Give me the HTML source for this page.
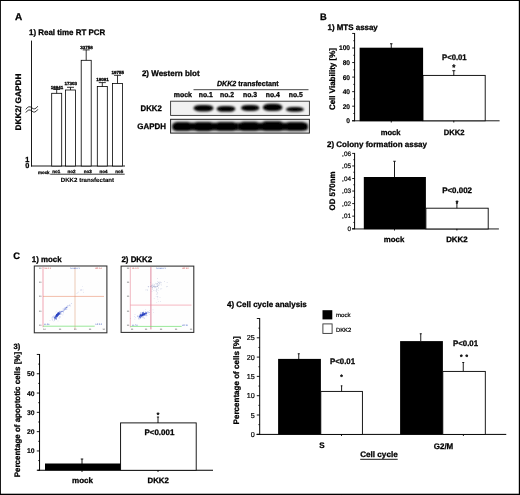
<!DOCTYPE html>
<html><head><meta charset="utf-8"><title>Figure</title>
<style>
html,body{margin:0;padding:0;background:#fff;}
svg{display:block;font-family:"Liberation Sans",Arial,sans-serif;text-rendering:geometricPrecision;}
</style></head><body>
<svg width="520" height="495" viewBox="0 0 520 495">
<rect x="0" y="0" width="520" height="495" fill="#fff"/>
<filter id="soft" x="0" y="0" width="520" height="495" filterUnits="userSpaceOnUse"><feGaussianBlur stdDeviation="0.3"/></filter>
<g filter="url(#soft)">
<text x="15" y="19.6" font-size="10" font-weight="bold" text-anchor="start" fill="#000"  stroke="#000" stroke-width="0.28">A</text>
<text x="29.1" y="34.8" font-size="8" font-weight="bold" text-anchor="start" fill="#000" textLength="76" lengthAdjust="spacingAndGlyphs"  stroke="#000" stroke-width="0.28">1) Real time RT PCR</text>
<line x1="31.5" y1="40.6" x2="31.5" y2="166.5" stroke="#000" stroke-width="0.9" />
<line x1="31" y1="166" x2="125" y2="166" stroke="#000" stroke-width="0.9" />
<path d="M25.8 109.4 q3 -4.4 6 -1.6 t6 -1.6 M25.8 112.6 q3 -4.4 6 -1.6 t6 -1.6" fill="none" stroke="#000" stroke-width="0.8"/>
<text x="29.2" y="161.9" font-size="7.3" font-weight="bold" text-anchor="end" fill="#000"  stroke="#000" stroke-width="0.28">1</text>
<text x="29.4" y="168.4" font-size="7.3" font-weight="bold" text-anchor="end" fill="#000"  stroke="#000" stroke-width="0.28">0</text>
<text transform="translate(21.1,102) rotate(-90)" font-size="8.1" font-weight="bold" text-anchor="middle" textLength="57" lengthAdjust="spacingAndGlyphs" stroke="#000" stroke-width="0.28">DKK2/ GAPDH</text>
<rect x="51.7" y="93.3" width="10" height="72.7" fill="#fff" stroke="#000" stroke-width="0.8" />
<line x1="56.7" y1="89.5" x2="56.7" y2="93.3" stroke="#000" stroke-width="0.8" />
<line x1="53.2" y1="89.5" x2="60.2" y2="89.5" stroke="#000" stroke-width="0.8" />
<text x="56.900000000000006" y="88.5" font-size="4.4" font-weight="bold" text-anchor="middle" fill="#000" textLength="12.5" lengthAdjust="spacingAndGlyphs" stroke="#000" stroke-width="0.3">16841</text>
<rect x="65.5" y="90" width="10" height="76" fill="#fff" stroke="#000" stroke-width="0.8" />
<line x1="70.5" y1="87.3" x2="70.5" y2="90" stroke="#000" stroke-width="0.8" />
<line x1="67.0" y1="87.3" x2="74.0" y2="87.3" stroke="#000" stroke-width="0.8" />
<text x="70.7" y="85.39999999999999" font-size="4.4" font-weight="bold" text-anchor="middle" fill="#000" textLength="12.5" lengthAdjust="spacingAndGlyphs" stroke="#000" stroke-width="0.3">17303</text>
<rect x="81.2" y="60.3" width="10" height="105.7" fill="#fff" stroke="#000" stroke-width="0.8" />
<line x1="86.2" y1="49.9" x2="86.2" y2="60.3" stroke="#000" stroke-width="0.8" />
<line x1="82.7" y1="49.9" x2="89.7" y2="49.9" stroke="#000" stroke-width="0.8" />
<text x="86.4" y="48.6" font-size="4.4" font-weight="bold" text-anchor="middle" fill="#000" textLength="12.5" lengthAdjust="spacingAndGlyphs" stroke="#000" stroke-width="0.3">33758</text>
<rect x="97.3" y="86.4" width="10" height="79.6" fill="#fff" stroke="#000" stroke-width="0.8" />
<line x1="102.3" y1="82.6" x2="102.3" y2="86.4" stroke="#000" stroke-width="0.8" />
<line x1="98.8" y1="82.6" x2="105.8" y2="82.6" stroke="#000" stroke-width="0.8" />
<text x="102.5" y="81.19999999999999" font-size="4.4" font-weight="bold" text-anchor="middle" fill="#000" textLength="12.5" lengthAdjust="spacingAndGlyphs" stroke="#000" stroke-width="0.3">18081</text>
<rect x="112.5" y="83.4" width="10" height="82.6" fill="#fff" stroke="#000" stroke-width="0.8" />
<line x1="117.5" y1="75.3" x2="117.5" y2="83.4" stroke="#000" stroke-width="0.8" />
<line x1="114.0" y1="75.3" x2="121.0" y2="75.3" stroke="#000" stroke-width="0.8" />
<text x="117.7" y="73.69999999999999" font-size="4.4" font-weight="bold" text-anchor="middle" fill="#000" textLength="12.5" lengthAdjust="spacingAndGlyphs" stroke="#000" stroke-width="0.3">19755</text>
<text x="38" y="173.6" font-size="4.5" font-weight="bold" text-anchor="start" fill="#000" textLength="11.6" lengthAdjust="spacingAndGlyphs" stroke="#000" stroke-width="0.25">mock</text>
<text x="56.2" y="173.4" font-size="4.5" font-weight="bold" text-anchor="middle" fill="#000" textLength="8" lengthAdjust="spacingAndGlyphs" stroke="#000" stroke-width="0.25">no1</text>
<text x="71.5" y="173.4" font-size="4.5" font-weight="bold" text-anchor="middle" fill="#000" textLength="8" lengthAdjust="spacingAndGlyphs" stroke="#000" stroke-width="0.25">no2</text>
<text x="87.7" y="173.4" font-size="4.5" font-weight="bold" text-anchor="middle" fill="#000" textLength="8" lengthAdjust="spacingAndGlyphs" stroke="#000" stroke-width="0.25">no3</text>
<text x="103.5" y="173.4" font-size="4.5" font-weight="bold" text-anchor="middle" fill="#000" textLength="8" lengthAdjust="spacingAndGlyphs" stroke="#000" stroke-width="0.25">no4</text>
<text x="119.2" y="173.4" font-size="4.5" font-weight="bold" text-anchor="middle" fill="#000" textLength="8" lengthAdjust="spacingAndGlyphs" stroke="#000" stroke-width="0.25">no5</text>
<line x1="50.2" y1="174.2" x2="124.7" y2="174.2" stroke="#000" stroke-width="0.8" />
<text x="60.8" y="182.4" font-size="6.1" font-weight="bold" text-anchor="start" fill="#000" textLength="53.3" lengthAdjust="spacingAndGlyphs" stroke="#000" stroke-width="0.12">DKK2 transfectant</text>
<text x="141.9" y="76.0" font-size="8" font-weight="bold" text-anchor="start" fill="#000" textLength="57.7" lengthAdjust="spacingAndGlyphs"  stroke="#000" stroke-width="0.28">2) Western blot</text>
<text x="217" y="86.3" font-size="7.3" font-weight="bold" text-anchor="start" fill="#000" textLength="61.7" lengthAdjust="spacingAndGlyphs"  stroke="#000" stroke-width="0.28"><tspan font-style="italic">DKK2</tspan> transfectant</text>
<line x1="193.5" y1="89.7" x2="308.5" y2="89.7" stroke="#333" stroke-width="0.9" />
<text x="173.8" y="97.4" font-size="7.2" font-weight="bold" text-anchor="start" fill="#000" textLength="18.2" lengthAdjust="spacingAndGlyphs"  stroke="#000" stroke-width="0.28">mock</text>
<text x="198.8" y="97.4" font-size="7.2" font-weight="bold" text-anchor="start" fill="#000" textLength="14" lengthAdjust="spacingAndGlyphs"  stroke="#000" stroke-width="0.28">no.1</text>
<text x="220" y="97.4" font-size="7.2" font-weight="bold" text-anchor="start" fill="#000" textLength="14" lengthAdjust="spacingAndGlyphs"  stroke="#000" stroke-width="0.28">no.2</text>
<text x="243" y="97.4" font-size="7.2" font-weight="bold" text-anchor="start" fill="#000" textLength="14" lengthAdjust="spacingAndGlyphs"  stroke="#000" stroke-width="0.28">no.3</text>
<text x="265.8" y="97.4" font-size="7.2" font-weight="bold" text-anchor="start" fill="#000" textLength="14" lengthAdjust="spacingAndGlyphs"  stroke="#000" stroke-width="0.28">no.4</text>
<text x="288.8" y="97.4" font-size="7.2" font-weight="bold" text-anchor="start" fill="#000" textLength="14" lengthAdjust="spacingAndGlyphs"  stroke="#000" stroke-width="0.28">no.5</text>
<text x="140.6" y="111.2" font-size="8" font-weight="bold" text-anchor="start" fill="#000" textLength="21.1" lengthAdjust="spacingAndGlyphs"  stroke="#000" stroke-width="0.28">DKK2</text>
<text x="137.3" y="129.1" font-size="8" font-weight="bold" text-anchor="start" fill="#000" textLength="28.7" lengthAdjust="spacingAndGlyphs"  stroke="#000" stroke-width="0.28">GAPDH</text>
<defs><filter id="bl" x="-20%" y="-50%" width="140%" height="200%"><feGaussianBlur stdDeviation="0.8"/></filter></defs>
<rect x="170.6" y="101.2" width="138.8" height="14.2" fill="#f1f1f1" stroke="#333" stroke-width="0.9" />
<rect x="170.6" y="119.3" width="138.8" height="13.8" fill="#e6e6e6" stroke="#222" stroke-width="1" />
<g filter="url(#bl)">
<rect x="193.6" y="104.9" width="19.80000000000001" height="6.6" rx="7.128000000000004" ry="3.3" fill="#050505"/>
<rect x="216.6" y="106.0" width="18.80000000000001" height="5.8" rx="6.768000000000004" ry="2.9" fill="#050505"/>
<rect x="241" y="104.9" width="18.399999999999977" height="6.0" rx="6.623999999999992" ry="3.0" fill="#050505"/>
<rect x="262.8" y="103.80000000000001" width="19.599999999999966" height="7.2" rx="7.055999999999988" ry="3.6" fill="#050505"/>
<rect x="286" y="107.10000000000001" width="17.80000000000001" height="4.6" rx="6.408000000000004" ry="2.3" fill="#050505"/>
<rect x="172.2" y="122.7" width="135.8" height="7.8" rx="3" ry="3.5" fill="#080808"/>
<rect x="172.8" y="122.1" width="19.19999999999999" height="9.0" rx="5" ry="4.5" fill="#050505"/>
<rect x="193" y="122.0" width="21" height="9.2" rx="5" ry="4.6" fill="#050505"/>
<rect x="215" y="122.1" width="22" height="9.0" rx="5" ry="4.5" fill="#050505"/>
<rect x="239" y="121.80000000000001" width="21" height="9.2" rx="5" ry="4.6" fill="#050505"/>
<rect x="261" y="121.3" width="23" height="9.8" rx="5" ry="4.9" fill="#050505"/>
<rect x="285" y="122.0" width="21.5" height="8.8" rx="5" ry="4.4" fill="#050505"/>
</g>
<text x="320.1" y="19.5" font-size="9.3" font-weight="bold" text-anchor="start" fill="#000"  stroke="#000" stroke-width="0.28">B</text>
<text x="327.5" y="30.3" font-size="8" font-weight="bold" text-anchor="start" fill="#000" textLength="50.3" lengthAdjust="spacingAndGlyphs"  stroke="#000" stroke-width="0.28">1) MTS assay</text>
<line x1="354.6" y1="33.0" x2="354.6" y2="121.25" stroke="#000" stroke-width="1" />
<line x1="352.20000000000005" y1="120.75" x2="354.6" y2="120.75" stroke="#000" stroke-width="0.9" />
<line x1="352.20000000000005" y1="106.2" x2="354.6" y2="106.2" stroke="#000" stroke-width="0.9" />
<line x1="352.20000000000005" y1="91.65" x2="354.6" y2="91.65" stroke="#000" stroke-width="0.9" />
<line x1="352.20000000000005" y1="77.1" x2="354.6" y2="77.1" stroke="#000" stroke-width="0.9" />
<line x1="352.20000000000005" y1="62.55" x2="354.6" y2="62.55" stroke="#000" stroke-width="0.9" />
<line x1="352.20000000000005" y1="48.0" x2="354.6" y2="48.0" stroke="#000" stroke-width="0.9" />
<line x1="352.20000000000005" y1="33.44999999999999" x2="354.6" y2="33.44999999999999" stroke="#000" stroke-width="0.9" />
<line x1="353.3" y1="113.475" x2="354.6" y2="113.475" stroke="#000" stroke-width="0.8" />
<line x1="353.3" y1="98.925" x2="354.6" y2="98.925" stroke="#000" stroke-width="0.8" />
<line x1="353.3" y1="84.375" x2="354.6" y2="84.375" stroke="#000" stroke-width="0.8" />
<line x1="353.3" y1="69.82499999999999" x2="354.6" y2="69.82499999999999" stroke="#000" stroke-width="0.8" />
<line x1="353.3" y1="55.27499999999999" x2="354.6" y2="55.27499999999999" stroke="#000" stroke-width="0.8" />
<line x1="353.3" y1="40.724999999999994" x2="354.6" y2="40.724999999999994" stroke="#000" stroke-width="0.8" />
<text x="350.1" y="123.162" font-size="6.7" font-weight="bold" text-anchor="end" fill="#000" stroke="#000" stroke-width="0.15">0</text>
<text x="350.1" y="108.61200000000001" font-size="6.7" font-weight="bold" text-anchor="end" fill="#000" stroke="#000" stroke-width="0.15">20</text>
<text x="350.1" y="94.06200000000001" font-size="6.7" font-weight="bold" text-anchor="end" fill="#000" stroke="#000" stroke-width="0.15">40</text>
<text x="350.1" y="79.512" font-size="6.7" font-weight="bold" text-anchor="end" fill="#000" stroke="#000" stroke-width="0.15">60</text>
<text x="350.1" y="64.962" font-size="6.7" font-weight="bold" text-anchor="end" fill="#000" stroke="#000" stroke-width="0.15">80</text>
<text x="350.1" y="50.412" font-size="6.7" font-weight="bold" text-anchor="end" fill="#000" stroke="#000" stroke-width="0.15">100</text>
<line x1="352" y1="120.8" x2="499.6" y2="120.8" stroke="#000" stroke-width="0.9" />
<rect x="359.6" y="47.7" width="63.5" height="73.5" fill="#000" stroke="#000" stroke-width="0" />
<rect x="423" y="75.4" width="62.2" height="45.4" fill="#fff" stroke="#000" stroke-width="0.9" />
<line x1="391.25" y1="43.75" x2="391.25" y2="48" stroke="#000" stroke-width="0.9" />
<line x1="390.0" y1="43.75" x2="392.5" y2="43.75" stroke="#000" stroke-width="0.9" />
<line x1="453.8" y1="70.7" x2="453.8" y2="75.4" stroke="#000" stroke-width="0.9" />
<line x1="452.3" y1="70.7" x2="455.3" y2="70.7" stroke="#000" stroke-width="0.9" />
<line x1="391.25" y1="120.75" x2="391.25" y2="122.5" stroke="#000" stroke-width="0.9" />
<line x1="453.8" y1="120.75" x2="453.8" y2="122.5" stroke="#000" stroke-width="0.9" />
<text x="453.8" y="69.6" font-size="8" font-weight="bold" text-anchor="middle" fill="#000"  stroke="#000" stroke-width="0.28">*</text>
<text x="442" y="60.2" font-size="8" font-weight="bold" text-anchor="start" fill="#000" textLength="24.6" lengthAdjust="spacingAndGlyphs"  stroke="#000" stroke-width="0.28">P&lt;0.01</text>
<text x="380.75" y="135.2" font-size="7.6" font-weight="bold" text-anchor="start" fill="#000" textLength="19.8" lengthAdjust="spacingAndGlyphs"  stroke="#000" stroke-width="0.28">mock</text>
<text x="443.8" y="135.1" font-size="7.7" font-weight="bold" text-anchor="start" fill="#000" textLength="20.8" lengthAdjust="spacingAndGlyphs"  stroke="#000" stroke-width="0.28">DKK2</text>
<text transform="translate(334.8,79.1) rotate(-90)" font-size="8" font-weight="bold" text-anchor="middle" textLength="62" lengthAdjust="spacingAndGlyphs" stroke="#000" stroke-width="0.28">Cell Viability [%]</text>
<text x="327" y="147.1" font-size="8" font-weight="bold" text-anchor="start" fill="#000" textLength="100" lengthAdjust="spacingAndGlyphs"  stroke="#000" stroke-width="0.28">2) Colony formation assay</text>
<line x1="354.6" y1="152.95000000000002" x2="354.6" y2="229.2" stroke="#000" stroke-width="1" />
<line x1="352.20000000000005" y1="228.7" x2="354.6" y2="228.7" stroke="#000" stroke-width="0.9" />
<line x1="352.20000000000005" y1="216.14999999999998" x2="354.6" y2="216.14999999999998" stroke="#000" stroke-width="0.9" />
<line x1="352.20000000000005" y1="203.6" x2="354.6" y2="203.6" stroke="#000" stroke-width="0.9" />
<line x1="352.20000000000005" y1="191.04999999999998" x2="354.6" y2="191.04999999999998" stroke="#000" stroke-width="0.9" />
<line x1="352.20000000000005" y1="178.5" x2="354.6" y2="178.5" stroke="#000" stroke-width="0.9" />
<line x1="352.20000000000005" y1="165.95" x2="354.6" y2="165.95" stroke="#000" stroke-width="0.9" />
<line x1="352.20000000000005" y1="153.39999999999998" x2="354.6" y2="153.39999999999998" stroke="#000" stroke-width="0.9" />
<line x1="353.3" y1="222.42499999999998" x2="354.6" y2="222.42499999999998" stroke="#000" stroke-width="0.8" />
<line x1="353.3" y1="209.875" x2="354.6" y2="209.875" stroke="#000" stroke-width="0.8" />
<line x1="353.3" y1="197.325" x2="354.6" y2="197.325" stroke="#000" stroke-width="0.8" />
<line x1="353.3" y1="184.77499999999998" x2="354.6" y2="184.77499999999998" stroke="#000" stroke-width="0.8" />
<line x1="353.3" y1="172.225" x2="354.6" y2="172.225" stroke="#000" stroke-width="0.8" />
<line x1="353.3" y1="159.67499999999998" x2="354.6" y2="159.67499999999998" stroke="#000" stroke-width="0.8" />
<text x="351.0" y="231.004" font-size="6.4" font-weight="normal" text-anchor="end" fill="#000" stroke="#000" stroke-width="0.2">0</text>
<text x="351.0" y="218.45399999999998" font-size="6.4" font-weight="normal" text-anchor="end" fill="#000" stroke="#000" stroke-width="0.2">,01</text>
<text x="351.0" y="205.904" font-size="6.4" font-weight="normal" text-anchor="end" fill="#000" stroke="#000" stroke-width="0.2">,02</text>
<text x="351.0" y="193.35399999999998" font-size="6.4" font-weight="normal" text-anchor="end" fill="#000" stroke="#000" stroke-width="0.2">,03</text>
<text x="351.0" y="180.804" font-size="6.4" font-weight="normal" text-anchor="end" fill="#000" stroke="#000" stroke-width="0.2">,04</text>
<text x="351.0" y="168.254" font-size="6.4" font-weight="normal" text-anchor="end" fill="#000" stroke="#000" stroke-width="0.2">,05</text>
<text x="351.0" y="155.70399999999998" font-size="6.4" font-weight="normal" text-anchor="end" fill="#000" stroke="#000" stroke-width="0.2">,06</text>
<line x1="352" y1="228.95" x2="498.9" y2="228.95" stroke="#000" stroke-width="0.9" />
<rect x="363.8" y="177.0" width="62.1" height="52.2" fill="#000" stroke="#000" stroke-width="0" />
<rect x="425.9" y="208.2" width="62.3" height="20.75" fill="#fff" stroke="#000" stroke-width="0.9" />
<line x1="394.5" y1="161.25" x2="394.5" y2="177" stroke="#000" stroke-width="0.9" />
<line x1="393.25" y1="161.25" x2="395.75" y2="161.25" stroke="#000" stroke-width="0.9" />
<line x1="456.9" y1="203.3" x2="456.9" y2="208.2" stroke="#000" stroke-width="0.9" />
<line x1="455.9" y1="203.3" x2="457.9" y2="203.3" stroke="#000" stroke-width="0.9" />
<line x1="394.5" y1="228.9" x2="394.5" y2="230.5" stroke="#000" stroke-width="0.9" />
<line x1="456.9" y1="228.9" x2="456.9" y2="230.5" stroke="#000" stroke-width="0.9" />
<text x="456.9" y="205.1" font-size="6.5" font-weight="bold" text-anchor="middle" fill="#000"  stroke="#000" stroke-width="0.28">*</text>
<text x="442.2" y="193.3" font-size="8" font-weight="bold" text-anchor="start" fill="#000" textLength="29.8" lengthAdjust="spacingAndGlyphs"  stroke="#000" stroke-width="0.28">P&lt;0.002</text>
<text x="383.75" y="242" font-size="7.7" font-weight="bold" text-anchor="start" fill="#000" textLength="20.5" lengthAdjust="spacingAndGlyphs"  stroke="#000" stroke-width="0.28">mock</text>
<text x="446.2" y="241.7" font-size="7.8" font-weight="bold" text-anchor="start" fill="#000" textLength="21.4" lengthAdjust="spacingAndGlyphs"  stroke="#000" stroke-width="0.28">DKK2</text>
<text transform="translate(334.5,191) rotate(-90)" font-size="8" font-weight="bold" text-anchor="middle" textLength="39" lengthAdjust="spacingAndGlyphs" stroke="#000" stroke-width="0.28">OD 570nm</text>
<text x="13.3" y="258.8" font-size="9.4" font-weight="bold" text-anchor="start" fill="#000"  stroke="#000" stroke-width="0.28">C</text>
<text x="31.8" y="262.4" font-size="8" font-weight="bold" text-anchor="start" fill="#000" textLength="29.8" lengthAdjust="spacingAndGlyphs"  stroke="#000" stroke-width="0.28">1) mock</text>
<text x="121.4" y="262.4" font-size="8" font-weight="bold" text-anchor="start" fill="#000" textLength="30.8" lengthAdjust="spacingAndGlyphs"  stroke="#000" stroke-width="0.28">2) DKK2</text>
<rect x="34.3" y="266" width="72.60000000000001" height="66.80000000000001" fill="#fefefe" stroke="#2c2c2c" stroke-width="1.05" />
<line x1="43" y1="267" x2="43" y2="327.2" stroke="#e86a80" stroke-width="0.6" />
<line x1="75" y1="267" x2="75" y2="329.2" stroke="#e0a888" stroke-width="0.6" />
<line x1="43" y1="296.4" x2="104" y2="296.4" stroke="#e89070" stroke-width="0.6" />
<line x1="43" y1="326.2" x2="94.7" y2="326.2" stroke="#6fe06f" stroke-width="0.7" />
<rect x="121.1" y="266.1" width="72.70000000000002" height="66.29999999999995" fill="#fefefe" stroke="#2c2c2c" stroke-width="1.05" />
<line x1="130.3" y1="267.1" x2="130.3" y2="327.4" stroke="#e88898" stroke-width="0.6" />
<line x1="150.9" y1="267.1" x2="150.9" y2="329.4" stroke="#d86a88" stroke-width="0.8" />
<line x1="130.3" y1="305.1" x2="191.5" y2="305.1" stroke="#f08898" stroke-width="0.6" />
<line x1="130.3" y1="326.4" x2="181.7" y2="326.4" stroke="#6fe06f" stroke-width="0.7" />
<circle cx="56.7" cy="315.5" r="0.4" fill="#2a44c4" fill-opacity="0.8"/>
<circle cx="57.2" cy="315.8" r="0.4" fill="#2a44c4" fill-opacity="0.8"/>
<circle cx="56.4" cy="316.9" r="0.4" fill="#2a44c4" fill-opacity="0.8"/>
<circle cx="58.3" cy="313.3" r="0.4" fill="#2a44c4" fill-opacity="0.8"/>
<circle cx="58.3" cy="313.5" r="0.4" fill="#2a44c4" fill-opacity="0.8"/>
<circle cx="57.6" cy="314.6" r="0.4" fill="#2a44c4" fill-opacity="0.8"/>
<circle cx="54.9" cy="317.7" r="0.4" fill="#2a44c4" fill-opacity="0.8"/>
<circle cx="57.6" cy="314.3" r="0.4" fill="#2a44c4" fill-opacity="0.8"/>
<circle cx="56.4" cy="318.8" r="0.4" fill="#2a44c4" fill-opacity="0.8"/>
<circle cx="56.5" cy="316.9" r="0.4" fill="#2a44c4" fill-opacity="0.8"/>
<circle cx="57.7" cy="314.8" r="0.4" fill="#2a44c4" fill-opacity="0.8"/>
<circle cx="58.3" cy="314.7" r="0.4" fill="#2a44c4" fill-opacity="0.8"/>
<circle cx="57.4" cy="314.6" r="0.4" fill="#2a44c4" fill-opacity="0.8"/>
<circle cx="55.6" cy="315.7" r="0.4" fill="#2a44c4" fill-opacity="0.8"/>
<circle cx="57.3" cy="313.9" r="0.4" fill="#2a44c4" fill-opacity="0.8"/>
<circle cx="57.0" cy="316.6" r="0.4" fill="#2a44c4" fill-opacity="0.8"/>
<circle cx="57.0" cy="315.9" r="0.4" fill="#2a44c4" fill-opacity="0.8"/>
<circle cx="57.9" cy="314.2" r="0.4" fill="#2a44c4" fill-opacity="0.8"/>
<circle cx="57.3" cy="316.4" r="0.4" fill="#2a44c4" fill-opacity="0.8"/>
<circle cx="56.0" cy="315.7" r="0.4" fill="#2a44c4" fill-opacity="0.8"/>
<circle cx="56.2" cy="316.5" r="0.4" fill="#2a44c4" fill-opacity="0.8"/>
<circle cx="58.6" cy="315.2" r="0.4" fill="#2a44c4" fill-opacity="0.8"/>
<circle cx="56.6" cy="314.7" r="0.4" fill="#2a44c4" fill-opacity="0.8"/>
<circle cx="55.2" cy="318.7" r="0.4" fill="#2a44c4" fill-opacity="0.8"/>
<circle cx="57.6" cy="315.8" r="0.4" fill="#2a44c4" fill-opacity="0.8"/>
<circle cx="57.9" cy="314.5" r="0.4" fill="#2a44c4" fill-opacity="0.8"/>
<circle cx="55.1" cy="317.4" r="0.4" fill="#2a44c4" fill-opacity="0.8"/>
<circle cx="57.5" cy="313.8" r="0.4" fill="#2a44c4" fill-opacity="0.8"/>
<circle cx="58.7" cy="312.8" r="0.4" fill="#2a44c4" fill-opacity="0.8"/>
<circle cx="58.2" cy="315.6" r="0.4" fill="#2a44c4" fill-opacity="0.8"/>
<circle cx="58.4" cy="314.5" r="0.4" fill="#2a44c4" fill-opacity="0.8"/>
<circle cx="57.5" cy="316.5" r="0.4" fill="#2a44c4" fill-opacity="0.8"/>
<circle cx="56.5" cy="317.1" r="0.4" fill="#2a44c4" fill-opacity="0.8"/>
<circle cx="59.9" cy="314.0" r="0.4" fill="#2a44c4" fill-opacity="0.8"/>
<circle cx="55.5" cy="317.6" r="0.4" fill="#2a44c4" fill-opacity="0.8"/>
<circle cx="58.6" cy="312.7" r="0.4" fill="#2a44c4" fill-opacity="0.8"/>
<circle cx="56.6" cy="319.4" r="0.4" fill="#2a44c4" fill-opacity="0.8"/>
<circle cx="58.1" cy="315.0" r="0.4" fill="#2a44c4" fill-opacity="0.8"/>
<circle cx="55.5" cy="316.7" r="0.4" fill="#2a44c4" fill-opacity="0.8"/>
<circle cx="58.5" cy="313.4" r="0.4" fill="#2a44c4" fill-opacity="0.8"/>
<circle cx="57.3" cy="314.7" r="0.4" fill="#2a44c4" fill-opacity="0.8"/>
<circle cx="58.8" cy="312.4" r="0.4" fill="#2a44c4" fill-opacity="0.8"/>
<circle cx="57.6" cy="314.2" r="0.4" fill="#2a44c4" fill-opacity="0.8"/>
<circle cx="54.8" cy="317.4" r="0.4" fill="#2a44c4" fill-opacity="0.8"/>
<circle cx="58.1" cy="313.5" r="0.4" fill="#2a44c4" fill-opacity="0.8"/>
<circle cx="55.4" cy="318.8" r="0.4" fill="#2a44c4" fill-opacity="0.8"/>
<circle cx="59.3" cy="314.6" r="0.4" fill="#2a44c4" fill-opacity="0.8"/>
<circle cx="56.5" cy="315.2" r="0.4" fill="#2a44c4" fill-opacity="0.8"/>
<circle cx="54.9" cy="316.8" r="0.4" fill="#2a44c4" fill-opacity="0.8"/>
<circle cx="58.0" cy="314.5" r="0.4" fill="#2a44c4" fill-opacity="0.8"/>
<circle cx="57.3" cy="314.5" r="0.4" fill="#2a44c4" fill-opacity="0.8"/>
<circle cx="56.8" cy="314.6" r="0.4" fill="#2a44c4" fill-opacity="0.8"/>
<circle cx="56.8" cy="316.6" r="0.4" fill="#2a44c4" fill-opacity="0.8"/>
<circle cx="58.5" cy="313.6" r="0.4" fill="#2a44c4" fill-opacity="0.8"/>
<circle cx="55.7" cy="316.4" r="0.4" fill="#2a44c4" fill-opacity="0.8"/>
<circle cx="59.2" cy="313.1" r="0.4" fill="#2a44c4" fill-opacity="0.8"/>
<circle cx="55.8" cy="317.6" r="0.4" fill="#2a44c4" fill-opacity="0.8"/>
<circle cx="57.3" cy="315.7" r="0.4" fill="#2a44c4" fill-opacity="0.8"/>
<circle cx="59.5" cy="313.4" r="0.4" fill="#2a44c4" fill-opacity="0.8"/>
<circle cx="59.5" cy="313.7" r="0.4" fill="#2a44c4" fill-opacity="0.8"/>
<circle cx="56.0" cy="316.3" r="0.4" fill="#2a44c4" fill-opacity="0.8"/>
<circle cx="58.1" cy="313.1" r="0.4" fill="#2a44c4" fill-opacity="0.8"/>
<circle cx="57.6" cy="314.7" r="0.4" fill="#2a44c4" fill-opacity="0.8"/>
<circle cx="57.1" cy="314.8" r="0.4" fill="#2a44c4" fill-opacity="0.8"/>
<circle cx="56.9" cy="315.5" r="0.4" fill="#2a44c4" fill-opacity="0.8"/>
<circle cx="58.0" cy="314.4" r="0.4" fill="#2a44c4" fill-opacity="0.8"/>
<circle cx="57.9" cy="313.8" r="0.4" fill="#2a44c4" fill-opacity="0.8"/>
<circle cx="59.4" cy="311.9" r="0.4" fill="#2a44c4" fill-opacity="0.8"/>
<circle cx="57.0" cy="316.2" r="0.4" fill="#2a44c4" fill-opacity="0.8"/>
<circle cx="56.8" cy="315.0" r="0.4" fill="#2a44c4" fill-opacity="0.8"/>
<circle cx="56.7" cy="315.7" r="0.4" fill="#2a44c4" fill-opacity="0.8"/>
<circle cx="60.9" cy="313.3" r="0.4" fill="#2a44c4" fill-opacity="0.8"/>
<circle cx="55.9" cy="317.0" r="0.4" fill="#2a44c4" fill-opacity="0.8"/>
<circle cx="57.6" cy="314.6" r="0.4" fill="#2a44c4" fill-opacity="0.8"/>
<circle cx="56.4" cy="315.7" r="0.4" fill="#2a44c4" fill-opacity="0.8"/>
<circle cx="57.9" cy="315.0" r="0.4" fill="#2a44c4" fill-opacity="0.8"/>
<circle cx="59.9" cy="311.2" r="0.4" fill="#2a44c4" fill-opacity="0.8"/>
<circle cx="56.7" cy="316.2" r="0.4" fill="#2a44c4" fill-opacity="0.8"/>
<circle cx="57.1" cy="315.7" r="0.4" fill="#2a44c4" fill-opacity="0.8"/>
<circle cx="54.4" cy="320.0" r="0.4" fill="#2a44c4" fill-opacity="0.8"/>
<circle cx="59.1" cy="314.1" r="0.4" fill="#2a44c4" fill-opacity="0.8"/>
<circle cx="56.7" cy="315.0" r="0.4" fill="#2a44c4" fill-opacity="0.8"/>
<circle cx="57.4" cy="313.3" r="0.4" fill="#2a44c4" fill-opacity="0.8"/>
<circle cx="55.6" cy="318.2" r="0.4" fill="#2a44c4" fill-opacity="0.8"/>
<circle cx="56.6" cy="315.6" r="0.4" fill="#2a44c4" fill-opacity="0.8"/>
<circle cx="60.1" cy="314.6" r="0.4" fill="#2a44c4" fill-opacity="0.8"/>
<circle cx="59.4" cy="314.1" r="0.4" fill="#2a44c4" fill-opacity="0.8"/>
<circle cx="58.9" cy="314.8" r="0.4" fill="#2a44c4" fill-opacity="0.8"/>
<circle cx="56.8" cy="314.5" r="0.4" fill="#2a44c4" fill-opacity="0.8"/>
<circle cx="57.0" cy="315.5" r="0.4" fill="#2a44c4" fill-opacity="0.8"/>
<circle cx="58.1" cy="313.9" r="0.4" fill="#2a44c4" fill-opacity="0.8"/>
<circle cx="56.3" cy="314.8" r="0.4" fill="#2a44c4" fill-opacity="0.8"/>
<circle cx="58.7" cy="313.7" r="0.4" fill="#2a44c4" fill-opacity="0.8"/>
<circle cx="61.1" cy="311.3" r="0.4" fill="#2a44c4" fill-opacity="0.8"/>
<circle cx="58.5" cy="313.9" r="0.4" fill="#2a44c4" fill-opacity="0.8"/>
<circle cx="57.0" cy="314.8" r="0.4" fill="#2a44c4" fill-opacity="0.8"/>
<circle cx="57.2" cy="314.7" r="0.4" fill="#2a44c4" fill-opacity="0.8"/>
<circle cx="56.4" cy="318.4" r="0.4" fill="#2a44c4" fill-opacity="0.8"/>
<circle cx="58.6" cy="314.7" r="0.4" fill="#2a44c4" fill-opacity="0.8"/>
<circle cx="57.0" cy="317.6" r="0.4" fill="#2a44c4" fill-opacity="0.8"/>
<circle cx="58.3" cy="312.9" r="0.4" fill="#2a44c4" fill-opacity="0.8"/>
<circle cx="59.5" cy="313.3" r="0.4" fill="#2a44c4" fill-opacity="0.8"/>
<circle cx="58.0" cy="315.8" r="0.4" fill="#2a44c4" fill-opacity="0.8"/>
<circle cx="57.3" cy="313.4" r="0.4" fill="#2a44c4" fill-opacity="0.8"/>
<circle cx="55.4" cy="316.1" r="0.4" fill="#2a44c4" fill-opacity="0.8"/>
<circle cx="58.5" cy="313.8" r="0.4" fill="#2a44c4" fill-opacity="0.8"/>
<circle cx="54.2" cy="318.0" r="0.4" fill="#2a44c4" fill-opacity="0.8"/>
<circle cx="57.5" cy="315.7" r="0.4" fill="#2a44c4" fill-opacity="0.8"/>
<circle cx="57.5" cy="314.5" r="0.4" fill="#2a44c4" fill-opacity="0.8"/>
<circle cx="59.6" cy="313.3" r="0.4" fill="#2a44c4" fill-opacity="0.8"/>
<circle cx="57.8" cy="312.8" r="0.4" fill="#2a44c4" fill-opacity="0.8"/>
<circle cx="59.1" cy="313.0" r="0.4" fill="#2a44c4" fill-opacity="0.8"/>
<circle cx="55.9" cy="316.1" r="0.4" fill="#2a44c4" fill-opacity="0.8"/>
<circle cx="57.4" cy="315.1" r="0.4" fill="#2a44c4" fill-opacity="0.8"/>
<circle cx="59.1" cy="313.1" r="0.4" fill="#2a44c4" fill-opacity="0.8"/>
<circle cx="54.9" cy="319.2" r="0.4" fill="#2a44c4" fill-opacity="0.8"/>
<circle cx="54.7" cy="318.0" r="0.4" fill="#2a44c4" fill-opacity="0.8"/>
<circle cx="58.0" cy="315.0" r="0.4" fill="#2a44c4" fill-opacity="0.8"/>
<circle cx="56.8" cy="315.0" r="0.4" fill="#2a44c4" fill-opacity="0.8"/>
<circle cx="56.6" cy="314.6" r="0.4" fill="#2a44c4" fill-opacity="0.8"/>
<circle cx="56.6" cy="315.0" r="0.4" fill="#2a44c4" fill-opacity="0.8"/>
<circle cx="58.1" cy="312.2" r="0.4" fill="#2a44c4" fill-opacity="0.8"/>
<circle cx="56.0" cy="316.0" r="0.4" fill="#2a44c4" fill-opacity="0.8"/>
<circle cx="55.8" cy="318.8" r="0.4" fill="#2a44c4" fill-opacity="0.8"/>
<circle cx="54.4" cy="318.1" r="0.4" fill="#2a44c4" fill-opacity="0.8"/>
<circle cx="55.9" cy="317.3" r="0.4" fill="#2a44c4" fill-opacity="0.8"/>
<circle cx="57.1" cy="315.6" r="0.4" fill="#2a44c4" fill-opacity="0.8"/>
<circle cx="56.5" cy="316.2" r="0.4" fill="#2a44c4" fill-opacity="0.8"/>
<circle cx="59.3" cy="312.3" r="0.4" fill="#2a44c4" fill-opacity="0.8"/>
<circle cx="57.3" cy="314.0" r="0.4" fill="#2a44c4" fill-opacity="0.8"/>
<circle cx="64.4" cy="310.2" r="0.35" fill="#2a44c4" fill-opacity="0.6"/>
<circle cx="62.7" cy="310.0" r="0.35" fill="#2a44c4" fill-opacity="0.6"/>
<circle cx="60.3" cy="313.0" r="0.35" fill="#2a44c4" fill-opacity="0.6"/>
<circle cx="67.0" cy="306.9" r="0.35" fill="#2a44c4" fill-opacity="0.6"/>
<circle cx="64.3" cy="309.0" r="0.35" fill="#2a44c4" fill-opacity="0.6"/>
<circle cx="65.3" cy="309.4" r="0.35" fill="#2a44c4" fill-opacity="0.6"/>
<circle cx="60.5" cy="312.8" r="0.35" fill="#2a44c4" fill-opacity="0.6"/>
<circle cx="67.1" cy="307.6" r="0.35" fill="#2a44c4" fill-opacity="0.6"/>
<circle cx="62.3" cy="311.5" r="0.35" fill="#2a44c4" fill-opacity="0.6"/>
<circle cx="60.4" cy="312.6" r="0.35" fill="#2a44c4" fill-opacity="0.6"/>
<circle cx="61.2" cy="311.6" r="0.35" fill="#2a44c4" fill-opacity="0.6"/>
<circle cx="58.1" cy="314.1" r="0.35" fill="#2a44c4" fill-opacity="0.6"/>
<circle cx="63.4" cy="311.4" r="0.35" fill="#2a44c4" fill-opacity="0.6"/>
<circle cx="66.5" cy="307.9" r="0.35" fill="#2a44c4" fill-opacity="0.6"/>
<circle cx="58.8" cy="314.3" r="0.35" fill="#2a44c4" fill-opacity="0.6"/>
<circle cx="65.4" cy="308.9" r="0.35" fill="#2a44c4" fill-opacity="0.6"/>
<circle cx="66.4" cy="307.4" r="0.35" fill="#2a44c4" fill-opacity="0.6"/>
<circle cx="66.2" cy="307.8" r="0.35" fill="#2a44c4" fill-opacity="0.6"/>
<circle cx="67.9" cy="306.2" r="0.35" fill="#2a44c4" fill-opacity="0.6"/>
<circle cx="66.4" cy="309.2" r="0.35" fill="#2a44c4" fill-opacity="0.6"/>
<circle cx="66.5" cy="306.9" r="0.35" fill="#2a44c4" fill-opacity="0.6"/>
<circle cx="63.8" cy="310.1" r="0.35" fill="#2a44c4" fill-opacity="0.6"/>
<circle cx="70.2" cy="305.9" r="0.35" fill="#2a44c4" fill-opacity="0.6"/>
<circle cx="65.0" cy="307.4" r="0.35" fill="#2a44c4" fill-opacity="0.6"/>
<circle cx="61.8" cy="311.0" r="0.35" fill="#2a44c4" fill-opacity="0.6"/>
<circle cx="69.6" cy="305.4" r="0.35" fill="#2a44c4" fill-opacity="0.6"/>
<circle cx="65.7" cy="307.8" r="0.35" fill="#2a44c4" fill-opacity="0.6"/>
<circle cx="62.1" cy="311.2" r="0.35" fill="#2a44c4" fill-opacity="0.6"/>
<circle cx="65.0" cy="308.4" r="0.35" fill="#2a44c4" fill-opacity="0.6"/>
<circle cx="64.5" cy="309.4" r="0.35" fill="#2a44c4" fill-opacity="0.6"/>
<circle cx="61.9" cy="311.6" r="0.35" fill="#2a44c4" fill-opacity="0.6"/>
<circle cx="66.9" cy="307.4" r="0.35" fill="#2a44c4" fill-opacity="0.6"/>
<circle cx="62.5" cy="311.4" r="0.35" fill="#2a44c4" fill-opacity="0.6"/>
<circle cx="71.3" cy="303.3" r="0.35" fill="#2a44c4" fill-opacity="0.6"/>
<circle cx="67.0" cy="309.0" r="0.35" fill="#2a44c4" fill-opacity="0.6"/>
<circle cx="66.0" cy="307.8" r="0.35" fill="#2a44c4" fill-opacity="0.6"/>
<circle cx="68.9" cy="305.6" r="0.35" fill="#2a44c4" fill-opacity="0.6"/>
<circle cx="64.2" cy="309.2" r="0.35" fill="#2a44c4" fill-opacity="0.6"/>
<circle cx="59.0" cy="313.0" r="0.35" fill="#2a44c4" fill-opacity="0.6"/>
<circle cx="65.6" cy="308.9" r="0.35" fill="#2a44c4" fill-opacity="0.6"/>
<circle cx="67.5" cy="305.8" r="0.35" fill="#2a44c4" fill-opacity="0.6"/>
<circle cx="60.9" cy="312.5" r="0.35" fill="#2a44c4" fill-opacity="0.6"/>
<circle cx="65.2" cy="308.6" r="0.35" fill="#2a44c4" fill-opacity="0.6"/>
<circle cx="63.7" cy="310.5" r="0.35" fill="#2a44c4" fill-opacity="0.6"/>
<circle cx="69.9" cy="304.5" r="0.35" fill="#2a44c4" fill-opacity="0.6"/>
<circle cx="52.1" cy="319.6" r="0.35" fill="#2a44c4" fill-opacity="0.4"/>
<circle cx="56.0" cy="314.0" r="0.35" fill="#2a44c4" fill-opacity="0.4"/>
<circle cx="56.3" cy="314.0" r="0.35" fill="#2a44c4" fill-opacity="0.4"/>
<circle cx="51.8" cy="317.9" r="0.35" fill="#2a44c4" fill-opacity="0.4"/>
<circle cx="50.0" cy="320.3" r="0.35" fill="#2a44c4" fill-opacity="0.4"/>
<circle cx="53.1" cy="316.6" r="0.35" fill="#2a44c4" fill-opacity="0.4"/>
<circle cx="52.3" cy="318.0" r="0.35" fill="#2a44c4" fill-opacity="0.4"/>
<circle cx="54.1" cy="316.1" r="0.35" fill="#2a44c4" fill-opacity="0.4"/>
<circle cx="54.5" cy="316.0" r="0.35" fill="#2a44c4" fill-opacity="0.4"/>
<circle cx="52.5" cy="316.8" r="0.35" fill="#2a44c4" fill-opacity="0.4"/>
<circle cx="54.1" cy="317.6" r="0.35" fill="#2a44c4" fill-opacity="0.4"/>
<circle cx="52.4" cy="317.8" r="0.35" fill="#2a44c4" fill-opacity="0.4"/>
<circle cx="53.2" cy="317.0" r="0.35" fill="#2a44c4" fill-opacity="0.4"/>
<circle cx="53.4" cy="316.9" r="0.35" fill="#2a44c4" fill-opacity="0.4"/>
<circle cx="59.8" cy="316.4" r="0.35" fill="#2a44c4" fill-opacity="0.3"/>
<circle cx="59.4" cy="312.0" r="0.35" fill="#2a44c4" fill-opacity="0.3"/>
<circle cx="60.7" cy="313.5" r="0.35" fill="#2a44c4" fill-opacity="0.3"/>
<circle cx="61.5" cy="314.4" r="0.35" fill="#2a44c4" fill-opacity="0.3"/>
<circle cx="52.4" cy="319.9" r="0.35" fill="#2a44c4" fill-opacity="0.3"/>
<circle cx="55.0" cy="316.3" r="0.35" fill="#2a44c4" fill-opacity="0.3"/>
<circle cx="58.0" cy="320.9" r="0.35" fill="#2a44c4" fill-opacity="0.3"/>
<circle cx="53.8" cy="315.6" r="0.35" fill="#2a44c4" fill-opacity="0.3"/>
<circle cx="59.1" cy="317.3" r="0.35" fill="#2a44c4" fill-opacity="0.3"/>
<circle cx="55.8" cy="316.1" r="0.35" fill="#2a44c4" fill-opacity="0.3"/>
<circle cx="60.5" cy="312.8" r="0.35" fill="#2a44c4" fill-opacity="0.3"/>
<circle cx="63.4" cy="309.3" r="0.35" fill="#2a44c4" fill-opacity="0.3"/>
<circle cx="58.3" cy="313.8" r="0.35" fill="#2a44c4" fill-opacity="0.3"/>
<circle cx="63.7" cy="308.5" r="0.35" fill="#2a44c4" fill-opacity="0.3"/>
<circle cx="63.6" cy="312.9" r="0.35" fill="#2a44c4" fill-opacity="0.3"/>
<circle cx="57.7" cy="314.0" r="0.35" fill="#2a44c4" fill-opacity="0.3"/>
<circle cx="56.9" cy="314.0" r="0.35" fill="#2a44c4" fill-opacity="0.3"/>
<circle cx="60.1" cy="311.7" r="0.35" fill="#2a44c4" fill-opacity="0.3"/>
<circle cx="55.6" cy="312.0" r="0.35" fill="#2a44c4" fill-opacity="0.3"/>
<circle cx="63.5" cy="311.2" r="0.35" fill="#2a44c4" fill-opacity="0.3"/>
<circle cx="56.6" cy="311.1" r="0.35" fill="#2a44c4" fill-opacity="0.3"/>
<circle cx="56.9" cy="314.4" r="0.35" fill="#2a44c4" fill-opacity="0.3"/>
<circle cx="62.4" cy="311.7" r="0.35" fill="#2a44c4" fill-opacity="0.3"/>
<circle cx="54.8" cy="317.6" r="0.35" fill="#2a44c4" fill-opacity="0.3"/>
<circle cx="59.1" cy="312.1" r="0.35" fill="#2a44c4" fill-opacity="0.3"/>
<circle cx="61.7" cy="312.2" r="0.35" fill="#2a44c4" fill-opacity="0.3"/>
<circle cx="61.4" cy="311.4" r="0.35" fill="#2a44c4" fill-opacity="0.3"/>
<circle cx="59.7" cy="313.8" r="0.35" fill="#2a44c4" fill-opacity="0.3"/>
<circle cx="57.5" cy="314.4" r="0.35" fill="#2a44c4" fill-opacity="0.3"/>
<circle cx="56.0" cy="318.3" r="0.35" fill="#2a44c4" fill-opacity="0.3"/>
<circle cx="60.5" cy="316.3" r="0.35" fill="#2a44c4" fill-opacity="0.3"/>
<circle cx="59.6" cy="318.2" r="0.35" fill="#2a44c4" fill-opacity="0.3"/>
<circle cx="56.1" cy="315.8" r="0.35" fill="#2a44c4" fill-opacity="0.3"/>
<circle cx="61.0" cy="312.9" r="0.35" fill="#2a44c4" fill-opacity="0.3"/>
<circle cx="59.7" cy="316.9" r="0.35" fill="#2a44c4" fill-opacity="0.3"/>
<circle cx="64.8" cy="308.6" r="0.35" fill="#2a44c4" fill-opacity="0.3"/>
<circle cx="63.7" cy="312.4" r="0.35" fill="#2a44c4" fill-opacity="0.3"/>
<circle cx="60.2" cy="317.3" r="0.35" fill="#2a44c4" fill-opacity="0.3"/>
<circle cx="60.7" cy="311.1" r="0.35" fill="#2a44c4" fill-opacity="0.3"/>
<circle cx="52.5" cy="320.1" r="0.35" fill="#2a44c4" fill-opacity="0.3"/>
<circle cx="63.0" cy="314.8" r="0.35" fill="#2a44c4" fill-opacity="0.3"/>
<circle cx="53.8" cy="321.1" r="0.35" fill="#2a44c4" fill-opacity="0.3"/>
<circle cx="58.3" cy="318.0" r="0.35" fill="#2a44c4" fill-opacity="0.3"/>
<circle cx="58.9" cy="314.1" r="0.35" fill="#2a44c4" fill-opacity="0.3"/>
<circle cx="60.5" cy="311.8" r="0.35" fill="#2a44c4" fill-opacity="0.3"/>
<circle cx="63.0" cy="308.7" r="0.35" fill="#2a44c4" fill-opacity="0.3"/>
<circle cx="55.0" cy="318.9" r="0.35" fill="#2a44c4" fill-opacity="0.3"/>
<circle cx="56.5" cy="318.9" r="0.35" fill="#2a44c4" fill-opacity="0.3"/>
<circle cx="58.7" cy="314.7" r="0.35" fill="#2a44c4" fill-opacity="0.3"/>
<circle cx="62.3" cy="315.0" r="0.35" fill="#2a44c4" fill-opacity="0.3"/>
<circle cx="77.8" cy="292.8" r="0.35" fill="#6070c0" fill-opacity="0.45"/>
<circle cx="80.8" cy="289.9" r="0.35" fill="#6070c0" fill-opacity="0.45"/>
<circle cx="81.7" cy="289.9" r="0.35" fill="#6070c0" fill-opacity="0.45"/>
<circle cx="82.4" cy="286.5" r="0.35" fill="#6070c0" fill-opacity="0.45"/>
<circle cx="81.5" cy="289.9" r="0.35" fill="#6070c0" fill-opacity="0.45"/>
<circle cx="83.7" cy="292.2" r="0.35" fill="#6070c0" fill-opacity="0.45"/>
<circle cx="78.4" cy="292.0" r="0.35" fill="#6070c0" fill-opacity="0.45"/>
<circle cx="76.9" cy="293.4" r="0.35" fill="#6070c0" fill-opacity="0.45"/>
<circle cx="83.0" cy="289.9" r="0.35" fill="#6070c0" fill-opacity="0.45"/>
<circle cx="80.7" cy="290.1" r="0.35" fill="#6070c0" fill-opacity="0.45"/>
<circle cx="143.4" cy="313.9" r="0.4" fill="#2a44c4" fill-opacity="0.8"/>
<circle cx="142.9" cy="315.5" r="0.4" fill="#2a44c4" fill-opacity="0.8"/>
<circle cx="142.3" cy="315.1" r="0.4" fill="#2a44c4" fill-opacity="0.8"/>
<circle cx="144.1" cy="313.7" r="0.4" fill="#2a44c4" fill-opacity="0.8"/>
<circle cx="141.5" cy="316.8" r="0.4" fill="#2a44c4" fill-opacity="0.8"/>
<circle cx="142.1" cy="315.9" r="0.4" fill="#2a44c4" fill-opacity="0.8"/>
<circle cx="140.1" cy="316.4" r="0.4" fill="#2a44c4" fill-opacity="0.8"/>
<circle cx="141.5" cy="315.5" r="0.4" fill="#2a44c4" fill-opacity="0.8"/>
<circle cx="143.9" cy="314.5" r="0.4" fill="#2a44c4" fill-opacity="0.8"/>
<circle cx="148.0" cy="312.1" r="0.4" fill="#2a44c4" fill-opacity="0.8"/>
<circle cx="145.0" cy="313.4" r="0.4" fill="#2a44c4" fill-opacity="0.8"/>
<circle cx="146.1" cy="315.1" r="0.4" fill="#2a44c4" fill-opacity="0.8"/>
<circle cx="140.8" cy="315.7" r="0.4" fill="#2a44c4" fill-opacity="0.8"/>
<circle cx="143.0" cy="312.5" r="0.4" fill="#2a44c4" fill-opacity="0.8"/>
<circle cx="142.8" cy="313.6" r="0.4" fill="#2a44c4" fill-opacity="0.8"/>
<circle cx="143.9" cy="313.2" r="0.4" fill="#2a44c4" fill-opacity="0.8"/>
<circle cx="143.8" cy="314.3" r="0.4" fill="#2a44c4" fill-opacity="0.8"/>
<circle cx="144.2" cy="315.0" r="0.4" fill="#2a44c4" fill-opacity="0.8"/>
<circle cx="145.7" cy="314.1" r="0.4" fill="#2a44c4" fill-opacity="0.8"/>
<circle cx="142.3" cy="313.1" r="0.4" fill="#2a44c4" fill-opacity="0.8"/>
<circle cx="142.1" cy="315.2" r="0.4" fill="#2a44c4" fill-opacity="0.8"/>
<circle cx="145.2" cy="313.4" r="0.4" fill="#2a44c4" fill-opacity="0.8"/>
<circle cx="140.7" cy="315.8" r="0.4" fill="#2a44c4" fill-opacity="0.8"/>
<circle cx="143.6" cy="313.7" r="0.4" fill="#2a44c4" fill-opacity="0.8"/>
<circle cx="140.2" cy="314.7" r="0.4" fill="#2a44c4" fill-opacity="0.8"/>
<circle cx="146.3" cy="312.7" r="0.4" fill="#2a44c4" fill-opacity="0.8"/>
<circle cx="143.4" cy="314.8" r="0.4" fill="#2a44c4" fill-opacity="0.8"/>
<circle cx="146.1" cy="313.6" r="0.4" fill="#2a44c4" fill-opacity="0.8"/>
<circle cx="144.3" cy="314.4" r="0.4" fill="#2a44c4" fill-opacity="0.8"/>
<circle cx="140.7" cy="315.3" r="0.4" fill="#2a44c4" fill-opacity="0.8"/>
<circle cx="145.6" cy="313.2" r="0.4" fill="#2a44c4" fill-opacity="0.8"/>
<circle cx="140.8" cy="315.2" r="0.4" fill="#2a44c4" fill-opacity="0.8"/>
<circle cx="142.4" cy="314.7" r="0.4" fill="#2a44c4" fill-opacity="0.8"/>
<circle cx="145.6" cy="312.1" r="0.4" fill="#2a44c4" fill-opacity="0.8"/>
<circle cx="140.5" cy="314.0" r="0.4" fill="#2a44c4" fill-opacity="0.8"/>
<circle cx="142.3" cy="314.4" r="0.4" fill="#2a44c4" fill-opacity="0.8"/>
<circle cx="141.2" cy="315.8" r="0.4" fill="#2a44c4" fill-opacity="0.8"/>
<circle cx="137.9" cy="315.9" r="0.4" fill="#2a44c4" fill-opacity="0.8"/>
<circle cx="146.2" cy="314.0" r="0.4" fill="#2a44c4" fill-opacity="0.8"/>
<circle cx="139.9" cy="318.0" r="0.4" fill="#2a44c4" fill-opacity="0.8"/>
<circle cx="145.4" cy="313.7" r="0.4" fill="#2a44c4" fill-opacity="0.8"/>
<circle cx="142.6" cy="315.2" r="0.4" fill="#2a44c4" fill-opacity="0.8"/>
<circle cx="142.8" cy="315.8" r="0.4" fill="#2a44c4" fill-opacity="0.8"/>
<circle cx="143.2" cy="315.9" r="0.4" fill="#2a44c4" fill-opacity="0.8"/>
<circle cx="142.3" cy="314.8" r="0.4" fill="#2a44c4" fill-opacity="0.8"/>
<circle cx="143.7" cy="314.5" r="0.4" fill="#2a44c4" fill-opacity="0.8"/>
<circle cx="140.5" cy="316.0" r="0.4" fill="#2a44c4" fill-opacity="0.8"/>
<circle cx="140.9" cy="314.4" r="0.4" fill="#2a44c4" fill-opacity="0.8"/>
<circle cx="144.4" cy="314.0" r="0.4" fill="#2a44c4" fill-opacity="0.8"/>
<circle cx="141.8" cy="316.0" r="0.4" fill="#2a44c4" fill-opacity="0.8"/>
<circle cx="140.6" cy="316.4" r="0.4" fill="#2a44c4" fill-opacity="0.8"/>
<circle cx="143.1" cy="314.2" r="0.4" fill="#2a44c4" fill-opacity="0.8"/>
<circle cx="143.0" cy="312.7" r="0.4" fill="#2a44c4" fill-opacity="0.8"/>
<circle cx="141.0" cy="315.8" r="0.4" fill="#2a44c4" fill-opacity="0.8"/>
<circle cx="149.6" cy="312.6" r="0.4" fill="#2a44c4" fill-opacity="0.8"/>
<circle cx="141.4" cy="315.5" r="0.4" fill="#2a44c4" fill-opacity="0.8"/>
<circle cx="142.8" cy="314.4" r="0.4" fill="#2a44c4" fill-opacity="0.8"/>
<circle cx="141.9" cy="315.0" r="0.4" fill="#2a44c4" fill-opacity="0.8"/>
<circle cx="142.4" cy="314.3" r="0.4" fill="#2a44c4" fill-opacity="0.8"/>
<circle cx="138.7" cy="318.0" r="0.4" fill="#2a44c4" fill-opacity="0.8"/>
<circle cx="143.0" cy="315.6" r="0.4" fill="#2a44c4" fill-opacity="0.8"/>
<circle cx="140.0" cy="315.8" r="0.4" fill="#2a44c4" fill-opacity="0.8"/>
<circle cx="140.9" cy="315.3" r="0.4" fill="#2a44c4" fill-opacity="0.8"/>
<circle cx="144.2" cy="313.7" r="0.4" fill="#2a44c4" fill-opacity="0.8"/>
<circle cx="143.8" cy="314.3" r="0.4" fill="#2a44c4" fill-opacity="0.8"/>
<circle cx="139.4" cy="316.8" r="0.4" fill="#2a44c4" fill-opacity="0.8"/>
<circle cx="143.8" cy="314.7" r="0.4" fill="#2a44c4" fill-opacity="0.8"/>
<circle cx="142.1" cy="314.5" r="0.4" fill="#2a44c4" fill-opacity="0.8"/>
<circle cx="140.4" cy="315.6" r="0.4" fill="#2a44c4" fill-opacity="0.8"/>
<circle cx="147.0" cy="312.9" r="0.4" fill="#2a44c4" fill-opacity="0.8"/>
<circle cx="143.0" cy="314.8" r="0.4" fill="#2a44c4" fill-opacity="0.8"/>
<circle cx="145.9" cy="312.7" r="0.4" fill="#2a44c4" fill-opacity="0.8"/>
<circle cx="144.9" cy="314.2" r="0.4" fill="#2a44c4" fill-opacity="0.8"/>
<circle cx="142.6" cy="314.9" r="0.4" fill="#2a44c4" fill-opacity="0.8"/>
<circle cx="138.0" cy="316.2" r="0.4" fill="#2a44c4" fill-opacity="0.8"/>
<circle cx="145.3" cy="314.9" r="0.4" fill="#2a44c4" fill-opacity="0.8"/>
<circle cx="144.3" cy="314.0" r="0.4" fill="#2a44c4" fill-opacity="0.8"/>
<circle cx="143.5" cy="314.1" r="0.4" fill="#2a44c4" fill-opacity="0.8"/>
<circle cx="139.3" cy="317.0" r="0.4" fill="#2a44c4" fill-opacity="0.8"/>
<circle cx="146.2" cy="313.4" r="0.4" fill="#2a44c4" fill-opacity="0.8"/>
<circle cx="140.8" cy="317.2" r="0.4" fill="#2a44c4" fill-opacity="0.8"/>
<circle cx="139.7" cy="316.3" r="0.4" fill="#2a44c4" fill-opacity="0.8"/>
<circle cx="146.2" cy="312.4" r="0.4" fill="#2a44c4" fill-opacity="0.8"/>
<circle cx="142.3" cy="313.0" r="0.4" fill="#2a44c4" fill-opacity="0.8"/>
<circle cx="141.7" cy="316.0" r="0.4" fill="#2a44c4" fill-opacity="0.8"/>
<circle cx="143.6" cy="313.8" r="0.4" fill="#2a44c4" fill-opacity="0.8"/>
<circle cx="140.8" cy="317.0" r="0.4" fill="#2a44c4" fill-opacity="0.8"/>
<circle cx="143.2" cy="314.4" r="0.4" fill="#2a44c4" fill-opacity="0.8"/>
<circle cx="139.7" cy="316.7" r="0.4" fill="#2a44c4" fill-opacity="0.8"/>
<circle cx="141.2" cy="315.3" r="0.4" fill="#2a44c4" fill-opacity="0.8"/>
<circle cx="142.4" cy="315.1" r="0.4" fill="#2a44c4" fill-opacity="0.8"/>
<circle cx="141.4" cy="314.6" r="0.4" fill="#2a44c4" fill-opacity="0.8"/>
<circle cx="145.9" cy="313.3" r="0.4" fill="#2a44c4" fill-opacity="0.8"/>
<circle cx="144.8" cy="314.3" r="0.4" fill="#2a44c4" fill-opacity="0.8"/>
<circle cx="142.5" cy="314.3" r="0.4" fill="#2a44c4" fill-opacity="0.8"/>
<circle cx="146.2" cy="313.2" r="0.4" fill="#2a44c4" fill-opacity="0.8"/>
<circle cx="142.4" cy="314.9" r="0.4" fill="#2a44c4" fill-opacity="0.8"/>
<circle cx="139.2" cy="316.8" r="0.4" fill="#2a44c4" fill-opacity="0.8"/>
<circle cx="140.9" cy="315.5" r="0.4" fill="#2a44c4" fill-opacity="0.8"/>
<circle cx="140.8" cy="317.7" r="0.4" fill="#2a44c4" fill-opacity="0.8"/>
<circle cx="142.6" cy="314.7" r="0.4" fill="#2a44c4" fill-opacity="0.8"/>
<circle cx="141.0" cy="315.0" r="0.4" fill="#2a44c4" fill-opacity="0.8"/>
<circle cx="142.2" cy="315.7" r="0.4" fill="#2a44c4" fill-opacity="0.8"/>
<circle cx="144.3" cy="315.4" r="0.4" fill="#2a44c4" fill-opacity="0.8"/>
<circle cx="141.1" cy="315.8" r="0.4" fill="#2a44c4" fill-opacity="0.8"/>
<circle cx="144.6" cy="313.9" r="0.4" fill="#2a44c4" fill-opacity="0.8"/>
<circle cx="143.6" cy="315.0" r="0.4" fill="#2a44c4" fill-opacity="0.8"/>
<circle cx="142.6" cy="313.4" r="0.4" fill="#2a44c4" fill-opacity="0.8"/>
<circle cx="140.1" cy="314.2" r="0.4" fill="#2a44c4" fill-opacity="0.8"/>
<circle cx="141.1" cy="315.7" r="0.4" fill="#2a44c4" fill-opacity="0.8"/>
<circle cx="142.6" cy="314.0" r="0.4" fill="#2a44c4" fill-opacity="0.8"/>
<circle cx="140.7" cy="318.0" r="0.4" fill="#2a44c4" fill-opacity="0.8"/>
<circle cx="143.6" cy="313.6" r="0.4" fill="#2a44c4" fill-opacity="0.8"/>
<circle cx="143.0" cy="312.3" r="0.4" fill="#2a44c4" fill-opacity="0.8"/>
<circle cx="143.0" cy="314.5" r="0.4" fill="#2a44c4" fill-opacity="0.8"/>
<circle cx="144.5" cy="313.4" r="0.4" fill="#2a44c4" fill-opacity="0.8"/>
<circle cx="146.8" cy="313.6" r="0.4" fill="#2a44c4" fill-opacity="0.8"/>
<circle cx="143.1" cy="317.8" r="0.4" fill="#2a44c4" fill-opacity="0.8"/>
<circle cx="144.6" cy="314.1" r="0.4" fill="#2a44c4" fill-opacity="0.8"/>
<circle cx="143.8" cy="312.2" r="0.4" fill="#2a44c4" fill-opacity="0.8"/>
<circle cx="142.7" cy="315.1" r="0.4" fill="#2a44c4" fill-opacity="0.8"/>
<circle cx="141.8" cy="316.1" r="0.4" fill="#2a44c4" fill-opacity="0.8"/>
<circle cx="140.9" cy="315.3" r="0.4" fill="#2a44c4" fill-opacity="0.8"/>
<circle cx="142.7" cy="314.8" r="0.4" fill="#2a44c4" fill-opacity="0.8"/>
<circle cx="141.8" cy="314.5" r="0.4" fill="#2a44c4" fill-opacity="0.8"/>
<circle cx="143.8" cy="314.4" r="0.4" fill="#2a44c4" fill-opacity="0.8"/>
<circle cx="144.2" cy="314.1" r="0.4" fill="#2a44c4" fill-opacity="0.8"/>
<circle cx="139.4" cy="315.4" r="0.4" fill="#2a44c4" fill-opacity="0.8"/>
<circle cx="144.0" cy="315.0" r="0.4" fill="#2a44c4" fill-opacity="0.8"/>
<circle cx="144.9" cy="313.3" r="0.4" fill="#2a44c4" fill-opacity="0.8"/>
<circle cx="134.7" cy="316.4" r="0.35" fill="#2a44c4" fill-opacity="0.35"/>
<circle cx="143.1" cy="312.7" r="0.35" fill="#2a44c4" fill-opacity="0.35"/>
<circle cx="143.5" cy="314.6" r="0.35" fill="#2a44c4" fill-opacity="0.35"/>
<circle cx="135.4" cy="317.4" r="0.35" fill="#2a44c4" fill-opacity="0.35"/>
<circle cx="143.0" cy="315.3" r="0.35" fill="#2a44c4" fill-opacity="0.35"/>
<circle cx="144.0" cy="313.9" r="0.35" fill="#2a44c4" fill-opacity="0.35"/>
<circle cx="145.7" cy="313.7" r="0.35" fill="#2a44c4" fill-opacity="0.35"/>
<circle cx="144.5" cy="318.3" r="0.35" fill="#2a44c4" fill-opacity="0.35"/>
<circle cx="140.2" cy="314.9" r="0.35" fill="#2a44c4" fill-opacity="0.35"/>
<circle cx="148.4" cy="312.1" r="0.35" fill="#2a44c4" fill-opacity="0.35"/>
<circle cx="140.6" cy="312.8" r="0.35" fill="#2a44c4" fill-opacity="0.35"/>
<circle cx="140.6" cy="314.6" r="0.35" fill="#2a44c4" fill-opacity="0.35"/>
<circle cx="149.4" cy="310.6" r="0.35" fill="#2a44c4" fill-opacity="0.35"/>
<circle cx="148.3" cy="312.9" r="0.35" fill="#2a44c4" fill-opacity="0.35"/>
<circle cx="143.5" cy="314.5" r="0.35" fill="#2a44c4" fill-opacity="0.35"/>
<circle cx="142.0" cy="312.9" r="0.35" fill="#2a44c4" fill-opacity="0.35"/>
<circle cx="153.0" cy="309.8" r="0.35" fill="#2a44c4" fill-opacity="0.35"/>
<circle cx="139.8" cy="315.6" r="0.35" fill="#2a44c4" fill-opacity="0.35"/>
<circle cx="137.8" cy="316.8" r="0.35" fill="#2a44c4" fill-opacity="0.35"/>
<circle cx="145.2" cy="313.9" r="0.35" fill="#2a44c4" fill-opacity="0.35"/>
<circle cx="146.2" cy="315.9" r="0.35" fill="#2a44c4" fill-opacity="0.35"/>
<circle cx="147.2" cy="315.3" r="0.35" fill="#2a44c4" fill-opacity="0.35"/>
<circle cx="140.3" cy="317.5" r="0.35" fill="#2a44c4" fill-opacity="0.35"/>
<circle cx="140.1" cy="314.6" r="0.35" fill="#2a44c4" fill-opacity="0.35"/>
<circle cx="143.3" cy="315.3" r="0.35" fill="#2a44c4" fill-opacity="0.35"/>
<circle cx="143.3" cy="311.1" r="0.35" fill="#2a44c4" fill-opacity="0.35"/>
<circle cx="142.3" cy="314.3" r="0.35" fill="#2a44c4" fill-opacity="0.35"/>
<circle cx="147.4" cy="311.3" r="0.35" fill="#2a44c4" fill-opacity="0.35"/>
<circle cx="135.0" cy="314.4" r="0.35" fill="#2a44c4" fill-opacity="0.35"/>
<circle cx="153.5" cy="312.3" r="0.35" fill="#2a44c4" fill-opacity="0.35"/>
<circle cx="142.0" cy="314.4" r="0.35" fill="#2a44c4" fill-opacity="0.35"/>
<circle cx="145.9" cy="311.4" r="0.35" fill="#2a44c4" fill-opacity="0.35"/>
<circle cx="142.5" cy="317.2" r="0.35" fill="#2a44c4" fill-opacity="0.35"/>
<circle cx="142.0" cy="313.1" r="0.35" fill="#2a44c4" fill-opacity="0.35"/>
<circle cx="139.1" cy="319.2" r="0.35" fill="#2a44c4" fill-opacity="0.35"/>
<circle cx="144.3" cy="317.9" r="0.35" fill="#2a44c4" fill-opacity="0.35"/>
<circle cx="142.0" cy="316.2" r="0.35" fill="#2a44c4" fill-opacity="0.35"/>
<circle cx="145.1" cy="314.8" r="0.35" fill="#2a44c4" fill-opacity="0.35"/>
<circle cx="139.4" cy="317.7" r="0.35" fill="#2a44c4" fill-opacity="0.35"/>
<circle cx="143.0" cy="316.0" r="0.35" fill="#2a44c4" fill-opacity="0.35"/>
<circle cx="141.9" cy="313.7" r="0.35" fill="#2a44c4" fill-opacity="0.35"/>
<circle cx="145.8" cy="309.3" r="0.35" fill="#2a44c4" fill-opacity="0.35"/>
<circle cx="139.8" cy="317.5" r="0.35" fill="#2a44c4" fill-opacity="0.35"/>
<circle cx="130.7" cy="318.3" r="0.35" fill="#2a44c4" fill-opacity="0.35"/>
<circle cx="139.7" cy="316.8" r="0.35" fill="#2a44c4" fill-opacity="0.35"/>
<circle cx="146.0" cy="315.6" r="0.35" fill="#2a44c4" fill-opacity="0.35"/>
<circle cx="144.5" cy="313.8" r="0.35" fill="#2a44c4" fill-opacity="0.35"/>
<circle cx="134.9" cy="319.1" r="0.35" fill="#2a44c4" fill-opacity="0.35"/>
<circle cx="149.2" cy="314.7" r="0.35" fill="#2a44c4" fill-opacity="0.35"/>
<circle cx="145.7" cy="312.5" r="0.35" fill="#2a44c4" fill-opacity="0.35"/>
<circle cx="144.1" cy="313.0" r="0.35" fill="#2a44c4" fill-opacity="0.35"/>
<circle cx="148.1" cy="311.9" r="0.35" fill="#2a44c4" fill-opacity="0.35"/>
<circle cx="146.5" cy="313.3" r="0.35" fill="#2a44c4" fill-opacity="0.35"/>
<circle cx="146.3" cy="314.3" r="0.35" fill="#2a44c4" fill-opacity="0.35"/>
<circle cx="140.5" cy="312.5" r="0.35" fill="#2a44c4" fill-opacity="0.35"/>
<circle cx="144.6" cy="314.0" r="0.35" fill="#2a44c4" fill-opacity="0.35"/>
<circle cx="138.7" cy="319.0" r="0.35" fill="#2a44c4" fill-opacity="0.35"/>
<circle cx="142.5" cy="313.0" r="0.35" fill="#2a44c4" fill-opacity="0.35"/>
<circle cx="143.8" cy="313.0" r="0.35" fill="#2a44c4" fill-opacity="0.35"/>
<circle cx="141.1" cy="312.9" r="0.35" fill="#2a44c4" fill-opacity="0.35"/>
<circle cx="155.0" cy="287.3" r="0.35" fill="#6878b0" fill-opacity="0.55"/>
<circle cx="159.5" cy="283.7" r="0.35" fill="#6878b0" fill-opacity="0.55"/>
<circle cx="155.4" cy="287.2" r="0.35" fill="#6878b0" fill-opacity="0.55"/>
<circle cx="154.4" cy="284.7" r="0.35" fill="#6878b0" fill-opacity="0.55"/>
<circle cx="158.5" cy="287.3" r="0.35" fill="#6878b0" fill-opacity="0.55"/>
<circle cx="157.5" cy="284.4" r="0.35" fill="#6878b0" fill-opacity="0.55"/>
<circle cx="151.3" cy="285.8" r="0.35" fill="#6878b0" fill-opacity="0.55"/>
<circle cx="155.2" cy="286.7" r="0.35" fill="#6878b0" fill-opacity="0.55"/>
<circle cx="157.9" cy="281.4" r="0.35" fill="#6878b0" fill-opacity="0.55"/>
<circle cx="152.8" cy="285.9" r="0.35" fill="#6878b0" fill-opacity="0.55"/>
<circle cx="150.4" cy="282.5" r="0.35" fill="#6878b0" fill-opacity="0.55"/>
<circle cx="152.9" cy="284.0" r="0.35" fill="#6878b0" fill-opacity="0.55"/>
<circle cx="152.7" cy="285.1" r="0.35" fill="#6878b0" fill-opacity="0.55"/>
<circle cx="167.2" cy="286.4" r="0.35" fill="#6878b0" fill-opacity="0.55"/>
<circle cx="153.8" cy="285.3" r="0.35" fill="#6878b0" fill-opacity="0.55"/>
<circle cx="156.3" cy="287.0" r="0.35" fill="#6878b0" fill-opacity="0.55"/>
<circle cx="164.5" cy="281.3" r="0.35" fill="#6878b0" fill-opacity="0.55"/>
<circle cx="148.6" cy="286.9" r="0.35" fill="#6878b0" fill-opacity="0.55"/>
<circle cx="148.1" cy="286.4" r="0.35" fill="#6878b0" fill-opacity="0.55"/>
<circle cx="153.6" cy="286.3" r="0.35" fill="#6878b0" fill-opacity="0.55"/>
<circle cx="160.9" cy="282.9" r="0.35" fill="#6878b0" fill-opacity="0.55"/>
<circle cx="152.0" cy="291.5" r="0.35" fill="#6878b0" fill-opacity="0.55"/>
<circle cx="160.0" cy="281.8" r="0.35" fill="#6878b0" fill-opacity="0.55"/>
<circle cx="151.9" cy="285.3" r="0.35" fill="#6878b0" fill-opacity="0.55"/>
<circle cx="157.4" cy="283.3" r="0.35" fill="#6878b0" fill-opacity="0.55"/>
<circle cx="147.3" cy="290.3" r="0.35" fill="#6878b0" fill-opacity="0.55"/>
<circle cx="158.9" cy="282.4" r="0.35" fill="#6878b0" fill-opacity="0.55"/>
<circle cx="161.8" cy="288.8" r="0.35" fill="#6878b0" fill-opacity="0.55"/>
<circle cx="156.2" cy="284.2" r="0.35" fill="#6878b0" fill-opacity="0.55"/>
<circle cx="167.1" cy="282.7" r="0.35" fill="#6878b0" fill-opacity="0.55"/>
<circle cx="154.7" cy="286.0" r="0.35" fill="#6878b0" fill-opacity="0.55"/>
<circle cx="159.9" cy="284.7" r="0.35" fill="#6878b0" fill-opacity="0.55"/>
<circle cx="161.3" cy="284.9" r="0.35" fill="#6878b0" fill-opacity="0.55"/>
<circle cx="157.6" cy="286.1" r="0.35" fill="#6878b0" fill-opacity="0.55"/>
<circle cx="157.3" cy="286.6" r="0.35" fill="#6878b0" fill-opacity="0.55"/>
<circle cx="148.6" cy="286.3" r="0.35" fill="#6878b0" fill-opacity="0.55"/>
<circle cx="157.7" cy="286.0" r="0.35" fill="#6878b0" fill-opacity="0.55"/>
<circle cx="155.9" cy="283.2" r="0.35" fill="#6878b0" fill-opacity="0.55"/>
<circle cx="152.2" cy="287.5" r="0.35" fill="#6878b0" fill-opacity="0.55"/>
<circle cx="157.7" cy="283.4" r="0.35" fill="#6878b0" fill-opacity="0.55"/>
<circle cx="156.6" cy="290.3" r="0.35" fill="#6878b0" fill-opacity="0.55"/>
<circle cx="160.7" cy="282.5" r="0.35" fill="#6878b0" fill-opacity="0.55"/>
<circle cx="156.3" cy="286.0" r="0.35" fill="#6878b0" fill-opacity="0.55"/>
<circle cx="157.4" cy="285.9" r="0.35" fill="#6878b0" fill-opacity="0.55"/>
<circle cx="152.6" cy="288.9" r="0.35" fill="#6878b0" fill-opacity="0.55"/>
<circle cx="154.2" cy="287.8" r="0.35" fill="#6878b0" fill-opacity="0.55"/>
<circle cx="150.8" cy="286.4" r="0.35" fill="#6878b0" fill-opacity="0.55"/>
<circle cx="150.2" cy="286.6" r="0.35" fill="#6878b0" fill-opacity="0.55"/>
<circle cx="151.6" cy="286.7" r="0.35" fill="#6878b0" fill-opacity="0.55"/>
<circle cx="161.3" cy="282.5" r="0.35" fill="#6878b0" fill-opacity="0.55"/>
<circle cx="153.0" cy="286.8" r="0.35" fill="#6878b0" fill-opacity="0.55"/>
<circle cx="158.2" cy="288.7" r="0.35" fill="#6878b0" fill-opacity="0.55"/>
<circle cx="153.4" cy="286.3" r="0.35" fill="#6878b0" fill-opacity="0.55"/>
<circle cx="154.1" cy="286.2" r="0.35" fill="#6878b0" fill-opacity="0.55"/>
<circle cx="158.2" cy="282.6" r="0.35" fill="#6878b0" fill-opacity="0.55"/>
<circle cx="159.1" cy="282.6" r="0.35" fill="#6878b0" fill-opacity="0.55"/>
<circle cx="154.9" cy="286.1" r="0.35" fill="#6878b0" fill-opacity="0.55"/>
<circle cx="155.2" cy="286.6" r="0.35" fill="#6878b0" fill-opacity="0.55"/>
<circle cx="156.9" cy="289.3" r="0.35" fill="#6878b0" fill-opacity="0.55"/>
<circle cx="154.7" cy="286.2" r="0.35" fill="#6878b0" fill-opacity="0.55"/>
<circle cx="152.1" cy="287.4" r="0.35" fill="#6878b0" fill-opacity="0.55"/>
<circle cx="158.2" cy="284.9" r="0.35" fill="#6878b0" fill-opacity="0.55"/>
<circle cx="166.7" cy="286.8" r="0.35" fill="#6878b0" fill-opacity="0.55"/>
<circle cx="156.9" cy="289.5" r="0.35" fill="#6878b0" fill-opacity="0.55"/>
<circle cx="157.4" cy="278.4" r="0.35" fill="#6878b0" fill-opacity="0.55"/>
<circle cx="145.9" cy="289.9" r="0.35" fill="#6878b0" fill-opacity="0.55"/>
<circle cx="158.4" cy="285.1" r="0.35" fill="#6878b0" fill-opacity="0.55"/>
<circle cx="160.3" cy="288.9" r="0.35" fill="#6878b0" fill-opacity="0.55"/>
<circle cx="159.1" cy="283.2" r="0.35" fill="#6878b0" fill-opacity="0.55"/>
<circle cx="156.6" cy="286.6" r="0.35" fill="#6878b0" fill-opacity="0.55"/>
<circle cx="159.0" cy="285.3" r="0.35" fill="#6878b0" fill-opacity="0.55"/>
<circle cx="157.4" cy="286.1" r="0.35" fill="#6878b0" fill-opacity="0.55"/>
<circle cx="147.1" cy="289.7" r="0.35" fill="#6878b0" fill-opacity="0.55"/>
<circle cx="156.1" cy="283.6" r="0.35" fill="#6878b0" fill-opacity="0.55"/>
<circle cx="152.5" cy="287.2" r="0.35" fill="#6878b0" fill-opacity="0.55"/>
<circle cx="156.2" cy="291.5" r="0.35" fill="#6878b0" fill-opacity="0.45"/>
<circle cx="152.9" cy="289.0" r="0.35" fill="#6878b0" fill-opacity="0.45"/>
<circle cx="160.0" cy="297.6" r="0.35" fill="#6878b0" fill-opacity="0.45"/>
<circle cx="153.7" cy="290.6" r="0.35" fill="#6878b0" fill-opacity="0.45"/>
<circle cx="155.0" cy="290.3" r="0.35" fill="#6878b0" fill-opacity="0.45"/>
<circle cx="157.8" cy="296.5" r="0.35" fill="#6878b0" fill-opacity="0.45"/>
<circle cx="158.1" cy="290.4" r="0.35" fill="#6878b0" fill-opacity="0.45"/>
<circle cx="158.3" cy="301.3" r="0.35" fill="#6878b0" fill-opacity="0.45"/>
<circle cx="153.0" cy="284.0" r="0.35" fill="#6878b0" fill-opacity="0.45"/>
<circle cx="157.8" cy="296.7" r="0.35" fill="#6878b0" fill-opacity="0.45"/>
<circle cx="157.8" cy="293.1" r="0.35" fill="#6878b0" fill-opacity="0.45"/>
<circle cx="156.6" cy="288.8" r="0.35" fill="#6878b0" fill-opacity="0.45"/>
<circle cx="154.1" cy="298.3" r="0.35" fill="#6878b0" fill-opacity="0.45"/>
<circle cx="156.1" cy="296.3" r="0.35" fill="#6878b0" fill-opacity="0.45"/>
<circle cx="157.1" cy="294.1" r="0.35" fill="#6878b0" fill-opacity="0.45"/>
<circle cx="157.7" cy="292.7" r="0.35" fill="#6878b0" fill-opacity="0.45"/>
<circle cx="160.5" cy="301.4" r="0.35" fill="#6878b0" fill-opacity="0.45"/>
<circle cx="157.9" cy="299.1" r="0.35" fill="#6878b0" fill-opacity="0.45"/>
<circle cx="156.4" cy="294.1" r="0.35" fill="#6878b0" fill-opacity="0.45"/>
<circle cx="156.3" cy="291.8" r="0.35" fill="#6878b0" fill-opacity="0.45"/>
<circle cx="157.8" cy="297.2" r="0.35" fill="#6878b0" fill-opacity="0.45"/>
<circle cx="156.8" cy="302.5" r="0.35" fill="#6878b0" fill-opacity="0.45"/>
<text x="41.4" y="268.8" font-size="2.2" font-weight="normal" text-anchor="end" fill="#444" >10</text>
<text x="41.4" y="282.6" font-size="2.2" font-weight="normal" text-anchor="end" fill="#444" >10</text>
<text x="41.4" y="297.40000000000003" font-size="2.2" font-weight="normal" text-anchor="end" fill="#444" >10</text>
<text x="41.4" y="311.8" font-size="2.2" font-weight="normal" text-anchor="end" fill="#444" >10</text>
<text x="41.4" y="325.8" font-size="2.2" font-weight="normal" text-anchor="end" fill="#444" >10</text>
<text x="44.5" y="330.1" font-size="2.2" font-weight="normal" text-anchor="middle" fill="#444" >10</text>
<text x="60" y="330.1" font-size="2.2" font-weight="normal" text-anchor="middle" fill="#444" >10</text>
<text x="75.3" y="330.1" font-size="2.2" font-weight="normal" text-anchor="middle" fill="#444" >10</text>
<text x="90" y="330.1" font-size="2.2" font-weight="normal" text-anchor="middle" fill="#444" >10</text>
<text x="103.8" y="330.1" font-size="2.2" font-weight="normal" text-anchor="middle" fill="#444" >10</text>
<text x="44.5" y="269.3" font-size="2.2" font-weight="normal" text-anchor="start" fill="#d04040" >UL 0.1</text>
<text x="70" y="269.3" font-size="2.2" font-weight="normal" text-anchor="start" fill="#4060c0" >Annexin V</text>
<text x="95" y="269.3" font-size="2.2" font-weight="normal" text-anchor="start" fill="#d04040" >UR 0.4</text>
<text x="44" y="325.2" font-size="2.2" font-weight="normal" text-anchor="start" fill="#4060c0" >LL 96</text>
<text x="95.5" y="325.2" font-size="2.2" font-weight="normal" text-anchor="start" fill="#4060c0" >LR 3.2</text>
<text x="129.2" y="268.8" font-size="2.2" font-weight="normal" text-anchor="end" fill="#444" >10</text>
<text x="129.2" y="282.8" font-size="2.2" font-weight="normal" text-anchor="end" fill="#444" >10</text>
<text x="129.2" y="297.40000000000003" font-size="2.2" font-weight="normal" text-anchor="end" fill="#444" >10</text>
<text x="129.2" y="311.8" font-size="2.2" font-weight="normal" text-anchor="end" fill="#444" >10</text>
<text x="129.2" y="326.3" font-size="2.2" font-weight="normal" text-anchor="end" fill="#444" >10</text>
<text x="132" y="330.3" font-size="2.2" font-weight="normal" text-anchor="middle" fill="#444" >10</text>
<text x="146" y="330.3" font-size="2.2" font-weight="normal" text-anchor="middle" fill="#444" >10</text>
<text x="161" y="330.3" font-size="2.2" font-weight="normal" text-anchor="middle" fill="#444" >10</text>
<text x="176" y="330.3" font-size="2.2" font-weight="normal" text-anchor="middle" fill="#444" >10</text>
<text x="191" y="330.3" font-size="2.2" font-weight="normal" text-anchor="middle" fill="#444" >10</text>
<text x="132" y="269.3" font-size="2.2" font-weight="normal" text-anchor="start" fill="#d04040" >UL 0.3</text>
<text x="156" y="269.3" font-size="2.2" font-weight="normal" text-anchor="start" fill="#4060c0" >Annexin V</text>
<text x="182" y="269.3" font-size="2.2" font-weight="normal" text-anchor="start" fill="#d04040" >UR 9.8</text>
<text x="132" y="325.8" font-size="2.2" font-weight="normal" text-anchor="start" fill="#4060c0" >LL 74</text>
<text x="182" y="325.8" font-size="2.2" font-weight="normal" text-anchor="start" fill="#4060c0" >LR 15</text>
<text x="13.6" y="348.7" font-size="7.6" font-weight="bold" text-anchor="start" fill="#000"  stroke="#000" stroke-width="0.28">3)</text>
<line x1="39.55" y1="354" x2="39.55" y2="470.7" stroke="#000" stroke-width="1" />
<line x1="36.8" y1="470.25" x2="39.5" y2="470.25" stroke="#000" stroke-width="0.9" />
<line x1="36.8" y1="450.95" x2="39.5" y2="450.95" stroke="#000" stroke-width="0.9" />
<line x1="36.8" y1="431.65" x2="39.5" y2="431.65" stroke="#000" stroke-width="0.9" />
<line x1="36.8" y1="412.35" x2="39.5" y2="412.35" stroke="#000" stroke-width="0.9" />
<line x1="36.8" y1="393.05" x2="39.5" y2="393.05" stroke="#000" stroke-width="0.9" />
<line x1="36.8" y1="373.75" x2="39.5" y2="373.75" stroke="#000" stroke-width="0.9" />
<line x1="36.8" y1="354.45" x2="39.5" y2="354.45" stroke="#000" stroke-width="0.9" />
<line x1="38.2" y1="460.6" x2="39.5" y2="460.6" stroke="#000" stroke-width="0.8" />
<line x1="38.2" y1="441.3" x2="39.5" y2="441.3" stroke="#000" stroke-width="0.8" />
<line x1="38.2" y1="422.0" x2="39.5" y2="422.0" stroke="#000" stroke-width="0.8" />
<line x1="38.2" y1="402.7" x2="39.5" y2="402.7" stroke="#000" stroke-width="0.8" />
<line x1="38.2" y1="383.4" x2="39.5" y2="383.4" stroke="#000" stroke-width="0.8" />
<line x1="38.2" y1="364.1" x2="39.5" y2="364.1" stroke="#000" stroke-width="0.8" />
<text x="34.5" y="453.45" font-size="6.8" font-weight="bold" text-anchor="end" fill="#000" stroke="#000" stroke-width="0.15">10</text>
<text x="34.5" y="434.15" font-size="6.8" font-weight="bold" text-anchor="end" fill="#000" stroke="#000" stroke-width="0.15">20</text>
<text x="34.5" y="414.85" font-size="6.8" font-weight="bold" text-anchor="end" fill="#000" stroke="#000" stroke-width="0.15">30</text>
<text x="34.5" y="395.55" font-size="6.8" font-weight="bold" text-anchor="end" fill="#000" stroke="#000" stroke-width="0.15">40</text>
<text x="34.5" y="376.25" font-size="6.8" font-weight="bold" text-anchor="end" fill="#000" stroke="#000" stroke-width="0.15">50</text>
<line x1="37.5" y1="470.25" x2="213" y2="470.25" stroke="#000" stroke-width="1" />
<rect x="45" y="463.5" width="75.7" height="6.8" fill="#000" stroke="#000" stroke-width="0" />
<rect x="120.6" y="422.9" width="75.6" height="47.4" fill="#fff" stroke="#000" stroke-width="0.9" />
<line x1="82" y1="459" x2="82" y2="464" stroke="#000" stroke-width="0.9" />
<line x1="80.75" y1="459" x2="83.25" y2="459" stroke="#000" stroke-width="0.9" />
<line x1="158" y1="417" x2="158" y2="422.9" stroke="#000" stroke-width="0.9" />
<line x1="156.9" y1="417" x2="159.1" y2="417" stroke="#000" stroke-width="0.9" />
<line x1="82" y1="470.25" x2="82" y2="472" stroke="#000" stroke-width="0.9" />
<line x1="158" y1="470.25" x2="158" y2="472" stroke="#000" stroke-width="0.9" />
<text x="158" y="416.8" font-size="6.5" font-weight="bold" text-anchor="middle" fill="#000"  stroke="#000" stroke-width="0.28">*</text>
<text x="144.5" y="435.1" font-size="8" font-weight="bold" text-anchor="start" fill="#000" textLength="29.8" lengthAdjust="spacingAndGlyphs"  stroke="#000" stroke-width="0.28">P&lt;0.001</text>
<text x="72" y="482.8" font-size="7.8" font-weight="bold" text-anchor="start" fill="#000" textLength="21" lengthAdjust="spacingAndGlyphs"  stroke="#000" stroke-width="0.28">mock</text>
<text x="147.5" y="483" font-size="7.8" font-weight="bold" text-anchor="start" fill="#000" textLength="21.3" lengthAdjust="spacingAndGlyphs"  stroke="#000" stroke-width="0.28">DKK2</text>
<text transform="translate(20.2,414.6) rotate(-90)" font-size="8" font-weight="bold" text-anchor="middle" textLength="125.3" lengthAdjust="spacingAndGlyphs" stroke="#000" stroke-width="0.28">Percentage of apoptotic cells [%]</text>
<text x="227" y="307.1" font-size="8" font-weight="bold" text-anchor="start" fill="#000" textLength="79.8" lengthAdjust="spacingAndGlyphs"  stroke="#000" stroke-width="0.28">4) Cell cycle analysis</text>
<line x1="259.7" y1="318.05" x2="259.7" y2="434.8" stroke="#000" stroke-width="1" />
<line x1="256.8" y1="434.3" x2="259.7" y2="434.3" stroke="#000" stroke-width="0.9" />
<line x1="256.8" y1="415.0" x2="259.7" y2="415.0" stroke="#000" stroke-width="0.9" />
<line x1="256.8" y1="395.7" x2="259.7" y2="395.7" stroke="#000" stroke-width="0.9" />
<line x1="256.8" y1="376.4" x2="259.7" y2="376.4" stroke="#000" stroke-width="0.9" />
<line x1="256.8" y1="357.1" x2="259.7" y2="357.1" stroke="#000" stroke-width="0.9" />
<line x1="256.8" y1="337.8" x2="259.7" y2="337.8" stroke="#000" stroke-width="0.9" />
<line x1="256.8" y1="318.5" x2="259.7" y2="318.5" stroke="#000" stroke-width="0.9" />
<line x1="258.4" y1="424.65000000000003" x2="259.7" y2="424.65000000000003" stroke="#000" stroke-width="0.8" />
<line x1="258.4" y1="405.35" x2="259.7" y2="405.35" stroke="#000" stroke-width="0.8" />
<line x1="258.4" y1="386.05" x2="259.7" y2="386.05" stroke="#000" stroke-width="0.8" />
<line x1="258.4" y1="366.75" x2="259.7" y2="366.75" stroke="#000" stroke-width="0.8" />
<line x1="258.4" y1="347.45" x2="259.7" y2="347.45" stroke="#000" stroke-width="0.8" />
<line x1="258.4" y1="328.15" x2="259.7" y2="328.15" stroke="#000" stroke-width="0.8" />
<text x="254.8" y="436.90000000000003" font-size="7.2" font-weight="normal" text-anchor="end" fill="#000" stroke="#000" stroke-width="0.2">0</text>
<text x="254.8" y="417.6" font-size="7.2" font-weight="normal" text-anchor="end" fill="#000" stroke="#000" stroke-width="0.2">5</text>
<text x="254.8" y="398.3" font-size="7.2" font-weight="normal" text-anchor="end" fill="#000" stroke="#000" stroke-width="0.2">10</text>
<text x="254.8" y="379.0" font-size="7.2" font-weight="normal" text-anchor="end" fill="#000" stroke="#000" stroke-width="0.2">15</text>
<text x="254.8" y="359.70000000000005" font-size="7.2" font-weight="normal" text-anchor="end" fill="#000" stroke="#000" stroke-width="0.2">20</text>
<text x="254.8" y="340.40000000000003" font-size="7.2" font-weight="normal" text-anchor="end" fill="#000" stroke="#000" stroke-width="0.2">25</text>
<line x1="256.5" y1="434.4" x2="506.25" y2="434.4" stroke="#000" stroke-width="1" />
<rect x="278.1" y="358.9" width="42.8" height="75.5" fill="#000" stroke="#000" stroke-width="0" />
<rect x="320.8" y="391.4" width="41.6" height="43.0" fill="#fff" stroke="#000" stroke-width="0.9" />
<rect x="400.1" y="341.1" width="42.8" height="93.3" fill="#000" stroke="#000" stroke-width="0" />
<rect x="442.8" y="371.4" width="42.5" height="63.0" fill="#fff" stroke="#000" stroke-width="0.9" />
<line x1="298.75" y1="353.75" x2="298.75" y2="360" stroke="#000" stroke-width="0.9" />
<line x1="297.75" y1="353.75" x2="299.75" y2="353.75" stroke="#000" stroke-width="0.9" />
<line x1="341.6" y1="385.8" x2="341.6" y2="391.3" stroke="#000" stroke-width="0.9" />
<line x1="340.8" y1="385.8" x2="342.40000000000003" y2="385.8" stroke="#000" stroke-width="0.9" />
<line x1="420.75" y1="333.75" x2="420.75" y2="341" stroke="#000" stroke-width="0.9" />
<line x1="419.75" y1="333.75" x2="421.75" y2="333.75" stroke="#000" stroke-width="0.9" />
<line x1="463.25" y1="362.5" x2="463.25" y2="371.3" stroke="#000" stroke-width="0.9" />
<line x1="462.25" y1="362.5" x2="464.25" y2="362.5" stroke="#000" stroke-width="0.9" />
<line x1="341.5" y1="434.4" x2="341.5" y2="436" stroke="#000" stroke-width="0.9" />
<line x1="463.4" y1="434.4" x2="463.4" y2="436" stroke="#000" stroke-width="0.9" />
<text x="330" y="363.6" font-size="8" font-weight="bold" text-anchor="start" fill="#000" textLength="25" lengthAdjust="spacingAndGlyphs"  stroke="#000" stroke-width="0.28">P&lt;0.01</text>
<text x="341.6" y="378.9" font-size="6.5" font-weight="bold" text-anchor="middle" fill="#000"  stroke="#000" stroke-width="0.28">*</text>
<text x="453" y="345.9" font-size="8" font-weight="bold" text-anchor="start" fill="#000" textLength="25" lengthAdjust="spacingAndGlyphs"  stroke="#000" stroke-width="0.28">P&lt;0.01</text>
<text x="461.25" y="358.6" font-size="6.5" font-weight="bold" text-anchor="middle" fill="#000"  stroke="#000" stroke-width="0.28">*</text>
<text x="466.75" y="358.6" font-size="6.5" font-weight="bold" text-anchor="middle" fill="#000"  stroke="#000" stroke-width="0.28">*</text>
<rect x="322.5" y="310.2" width="9.8" height="9.2" fill="#000" stroke="#000" stroke-width="0" />
<rect x="322.9" y="323.9" width="9.2" height="9.5" fill="#fff" stroke="#333" stroke-width="0.9" />
<text x="335.9" y="317.1" font-size="6" font-weight="normal" text-anchor="start" fill="#000" textLength="14.7" lengthAdjust="spacingAndGlyphs" stroke="#000" stroke-width="0.2">mock</text>
<text x="335.9" y="331.5" font-size="6" font-weight="normal" text-anchor="start" fill="#000" textLength="15.4" lengthAdjust="spacingAndGlyphs" stroke="#000" stroke-width="0.2">DKK2</text>
<text x="319.2" y="448.4" font-size="8" font-weight="bold" text-anchor="start" fill="#000"  stroke="#000" stroke-width="0.28">S</text>
<text x="433.75" y="448.6" font-size="8" font-weight="bold" text-anchor="start" fill="#000" textLength="19.5" lengthAdjust="spacingAndGlyphs"  stroke="#000" stroke-width="0.28">G2/M</text>
<text x="360.2" y="457" font-size="8" font-weight="bold" text-anchor="start" fill="#000" textLength="37.5" lengthAdjust="spacingAndGlyphs"  stroke="#000" stroke-width="0.28">Cell cycle</text>
<line x1="360.2" y1="459.3" x2="397.7" y2="459.3" stroke="#000" stroke-width="0.9" />
<text transform="translate(239.2,380.4) rotate(-90)" font-size="8" font-weight="bold" text-anchor="middle" textLength="88" lengthAdjust="spacingAndGlyphs" stroke="#000" stroke-width="0.28">Percentage of cells [%]</text>
</g>
<rect x="0" y="0" width="520" height="1" fill="#000"/>
<rect x="0" y="0" width="0.9" height="495" fill="#000"/>
<rect x="518.8" y="0" width="1.2" height="495" fill="#000"/>
<rect x="0" y="493.7" width="520" height="1.3" fill="#000"/>
</svg>
</body></html>
